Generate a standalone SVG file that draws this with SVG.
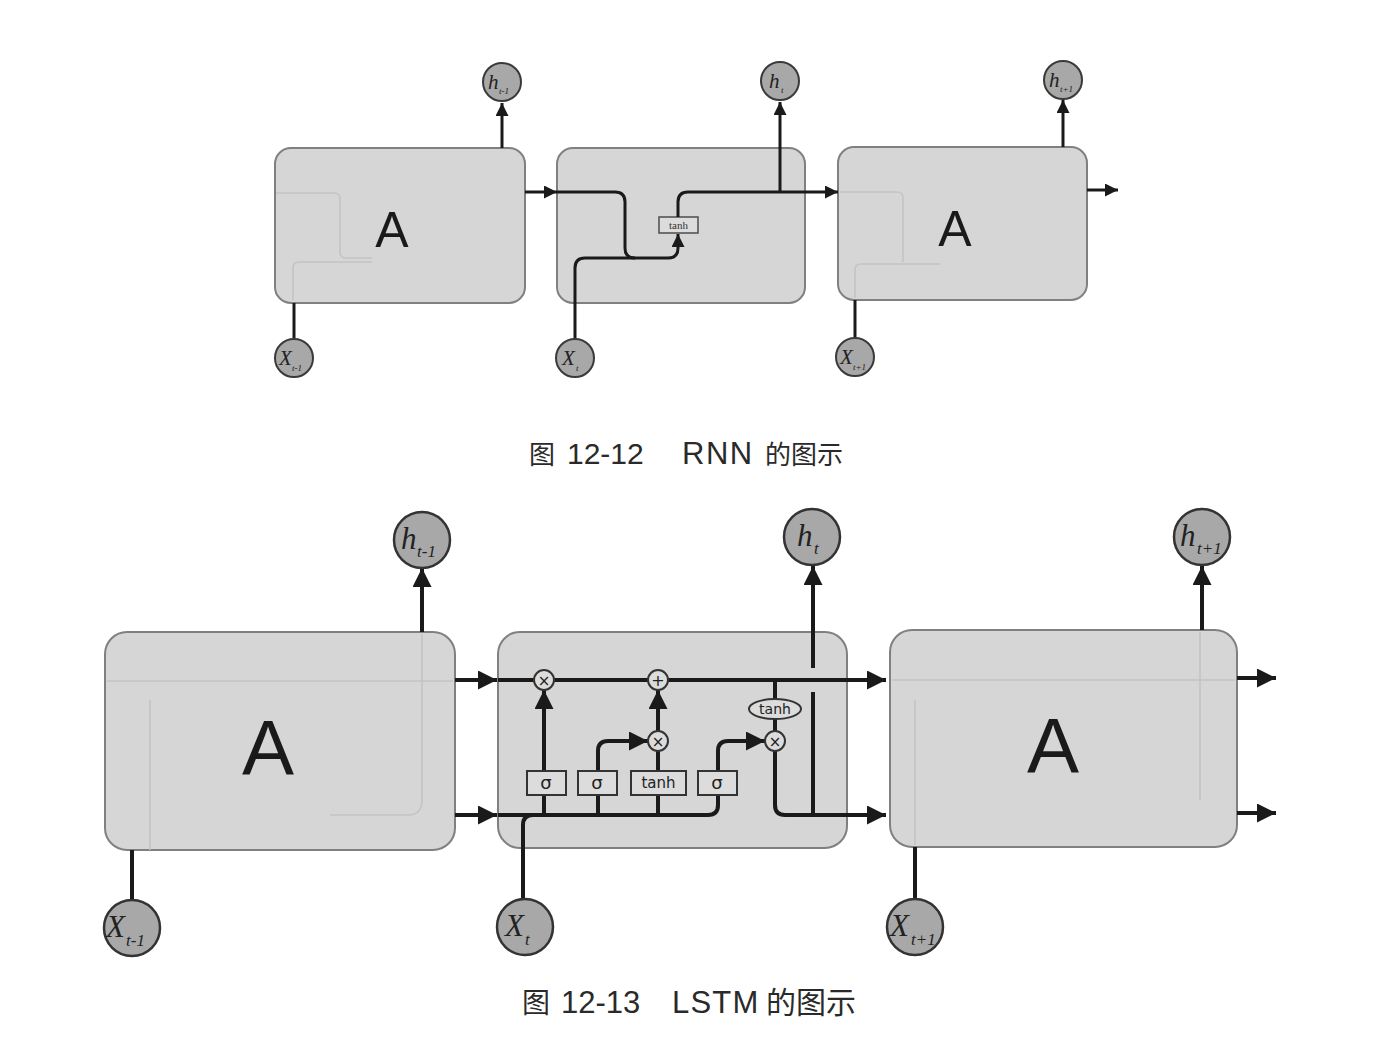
<svg xmlns="http://www.w3.org/2000/svg" width="1392" height="1046" viewBox="0 0 1392 1046">
<defs>
<marker id="a1" markerUnits="userSpaceOnUse" markerWidth="13" markerHeight="13" refX="13" refY="6.5" orient="auto"><path d="M0,0 L13,6.5 L0,13 z" fill="#1a1a1a"/></marker>
<marker id="a2" markerUnits="userSpaceOnUse" markerWidth="19" markerHeight="19" refX="19" refY="9.5" orient="auto"><path d="M0,0 L19,9.5 L0,19 z" fill="#1a1a1a"/></marker>
</defs>
<style>
.box{fill:#d6d6d6;stroke:#808080;stroke-width:2}
.ghost{fill:none;stroke:#c4c4c4;stroke-width:1.6}
.l1{fill:none;stroke:#1a1a1a;stroke-width:3}
.l2{fill:none;stroke:#1a1a1a;stroke-width:4}
.a1{marker-end:url(#a1)}
.a2{marker-end:url(#a2)}
.nd{fill:#a8a8a8;stroke:#3a3a3a;stroke-width:2}
.nd2{fill:#a8a8a8;stroke:#333;stroke-width:2.5}
.op{fill:#dcdcdc;stroke:#333;stroke-width:2}
.bigA{font-family:"Liberation Sans",Arial,sans-serif;fill:#1a1a1a;text-anchor:middle}
.var{font-family:"Liberation Serif","Times New Roman",serif;font-style:italic;fill:#222}
.opt{font-family:"DejaVu Sans","Liberation Sans",sans-serif;fill:#222;text-anchor:middle}
.cap{font-family:"Liberation Sans","Noto Sans CJK SC",sans-serif;fill:#2a2a2a}
</style>
<rect width="1392" height="1046" fill="#ffffff"/>

<!-- RNN -->
<g id="rnn-A1">
<rect class="box" x="275" y="148" width="250" height="155" rx="16"/>
<path class="ghost" d="M276,193 H334 Q340,193 340,199 V252 Q340,258 346,258 H372"/>
<path class="ghost" d="M293,300 V268 Q293,262 299,262 H372"/>
<text class="bigA" x="392" y="247" font-size="50">A</text>
</g>
<g id="rnn-A2">
<rect class="box" x="557" y="148" width="248" height="155" rx="16"/>
<rect x="659" y="217" width="39" height="16" fill="#dcdcdc" stroke="#555" stroke-width="1.6"/>
<text x="678.5" y="229" font-family="Liberation Serif,serif" font-size="11" fill="#333" text-anchor="middle">tanh</text>
</g>
<g id="rnn-A3">
<rect class="box" x="838" y="147" width="249" height="153" rx="16"/>
<path class="ghost" d="M840,192 H897 Q903,192 903,198 V262"/>
<path class="ghost" d="M855,298 V270 Q855,264 861,264 H940"/>
<text class="bigA" x="955" y="246" font-size="50">A</text>
</g>

<g id="rnn-connectors">
<line class="l1 a1" x1="502" y1="148" x2="502" y2="103"/>
<line class="l1" x1="294" y1="303" x2="294" y2="340"/>
<line class="l1 a1" x1="525" y1="192" x2="557" y2="192"/>
<path class="l1" d="M557,192 H615 Q625,192 625,202 V248 Q625,258 635,258"/>
<path class="l1 a1" d="M575,340 V268 Q575,258 585,258 H668 Q678,258 678,248 V234"/>
<path class="l1 a1" d="M678,217 V202 Q678,192 688,192 H838"/>
<line class="l1 a1" x1="780" y1="192" x2="780" y2="102"/>
<line class="l1" x1="855" y1="300" x2="855" y2="339"/>
<line class="l1 a1" x1="1063" y1="147" x2="1063" y2="100"/>
<line class="l1 a1" x1="1087" y1="190" x2="1118" y2="190"/>
</g>

<g id="rnn-h1"><circle class="nd" cx="502" cy="82" r="19"/><text class="var" x="488" y="89" font-size="21">h</text><text class="var" x="499" y="94" font-size="9">t-1</text></g>
<g id="rnn-h2"><circle class="nd" cx="780" cy="81" r="19"/><text class="var" x="769" y="88" font-size="21">h</text><text class="var" x="781" y="93" font-size="9">t</text></g>
<g id="rnn-h3"><circle class="nd" cx="1063" cy="80" r="19"/><text class="var" x="1049" y="87" font-size="21">h</text><text class="var" x="1060" y="92" font-size="9">t+1</text></g>
<g id="rnn-x1"><circle class="nd" cx="294" cy="358" r="19"/><text class="var" x="279" y="365" font-size="21">X</text><text class="var" x="292" y="371" font-size="9">t-1</text></g>
<g id="rnn-x2"><circle class="nd" cx="575" cy="358" r="19"/><text class="var" x="562" y="365" font-size="21">X</text><text class="var" x="576" y="371" font-size="9">t</text></g>
<g id="rnn-x3"><circle class="nd" cx="855" cy="357" r="19"/><text class="var" x="840" y="364" font-size="21">X</text><text class="var" x="853" y="370" font-size="9">t+1</text></g>

<text class="cap" y="464" font-size="26"><tspan x="529">图 </tspan><tspan x="567" font-size="30">12-12　</tspan><tspan x="682" font-size="31" letter-spacing="1.5">RNN </tspan><tspan x="765">的图示</tspan></text>

<!-- LSTM -->
<g id="lstm-A1">
<rect class="box" x="105" y="632" width="350" height="218" rx="22"/>
<path class="ghost" d="M107,681 H453 M422,634 V800 Q422,815 408,815 H330 M150,850 V700"/>
<text class="bigA" x="268" y="775" font-size="78">A</text>
</g>
<g id="lstm-A2">
<rect class="box" x="498" y="632" width="349" height="216" rx="22"/>
</g>
<g id="lstm-A3">
<rect class="box" x="890" y="630" width="347" height="217" rx="22"/>
<path class="ghost" d="M892,680 H1235 M1200,632 V800 M915,845 V700"/>
<text class="bigA" x="1053" y="773" font-size="78">A</text>
</g>

<g id="lstm-connectors">
<line class="l2 a2" x1="422" y1="632" x2="422" y2="568"/>
<line class="l2" x1="132" y1="850" x2="132" y2="900"/>
<line class="l2 a2" x1="455" y1="680" x2="497" y2="680"/>
<line class="l2 a2" x1="455" y1="815" x2="497" y2="815"/>
<line class="l2 a2" x1="498" y1="680" x2="886" y2="680"/>
<path class="l2 a2" d="M544,815 V690"/>
<path class="l2 a2" d="M598,815 V751 Q598,741 608,741 H648"/>
<path class="l2" d="M658,815 V731"/>
<path class="l2 a2" d="M658,731 V690"/>
<path class="l2 a2" d="M498,815 H708 Q718,815 718,805 V751 Q718,741 728,741 H765"/>
<path class="l2" d="M523,900 V825 Q523,815 533,815"/>
<path class="l2" d="M775,680 V731"/>
<path class="l2 a2" d="M775,751 V805 Q775,815 785,815 H886"/>
<path class="l2" d="M813,815 V692"/>
<path class="l2 a2" d="M813,668 V566"/>
<line class="l2" x1="915" y1="847" x2="915" y2="900"/>
<line class="l2 a2" x1="1202" y1="630" x2="1202" y2="566"/>
<line class="l2 a2" x1="1237" y1="678" x2="1276" y2="678"/>
<line class="l2 a2" x1="1237" y1="813" x2="1276" y2="813"/>
</g>

<g id="lstm-ops">
<circle class="op" cx="544" cy="680" r="10"/><text class="opt" x="544" y="686" font-size="15">×</text>
<circle class="op" cx="658" cy="680" r="10"/><text class="opt" x="658" y="686" font-size="16">+</text>
<circle class="op" cx="658" cy="741" r="10"/><text class="opt" x="658" y="747" font-size="15">×</text>
<circle class="op" cx="775" cy="741" r="10"/><text class="opt" x="775" y="747" font-size="15">×</text>
<ellipse class="op" cx="775" cy="709" rx="26" ry="10"/><text class="opt" x="775" y="714" font-size="14">tanh</text>
<rect class="op" x="527" y="771" width="39" height="24"/><text class="opt" x="546" y="789" font-size="18">σ</text>
<rect class="op" x="578" y="771" width="39" height="24"/><text class="opt" x="597" y="789" font-size="18">σ</text>
<rect class="op" x="631" y="771" width="55" height="24"/><text class="opt" x="658.5" y="788" font-size="15">tanh</text>
<rect class="op" x="698" y="771" width="39" height="24"/><text class="opt" x="717" y="789" font-size="18">σ</text>
</g>

<g id="lstm-h1"><circle class="nd2" cx="422" cy="540" r="28"/><text class="var" x="401" y="549" font-size="31">h</text><text class="var" x="417" y="557" font-size="17">t-1</text></g>
<g id="lstm-h2"><circle class="nd2" cx="812" cy="537" r="28"/><text class="var" x="797" y="546" font-size="31">h</text><text class="var" x="814" y="554" font-size="17">t</text></g>
<g id="lstm-h3"><circle class="nd2" cx="1202" cy="537" r="28"/><text class="var" x="1180" y="546" font-size="31">h</text><text class="var" x="1197" y="554" font-size="17">t+1</text></g>
<g id="lstm-x1"><circle class="nd2" cx="132" cy="928" r="28"/><text class="var" x="106" y="937" font-size="31">X</text><text class="var" x="126" y="946" font-size="17">t-1</text></g>
<g id="lstm-x2"><circle class="nd2" cx="525" cy="927" r="28"/><text class="var" x="505" y="936" font-size="31">X</text><text class="var" x="525" y="945" font-size="17">t</text></g>
<g id="lstm-x3"><circle class="nd2" cx="915" cy="927" r="28"/><text class="var" x="890" y="936" font-size="31">X</text><text class="var" x="911" y="945" font-size="17">t+1</text></g>

<text class="cap" y="1013" font-size="28"><tspan x="522">图 </tspan><tspan x="561" font-size="31">12-13　</tspan><tspan x="672" font-size="31" letter-spacing="1.2">LSTM </tspan><tspan x="766" font-size="30">的图示</tspan></text>
</svg>
